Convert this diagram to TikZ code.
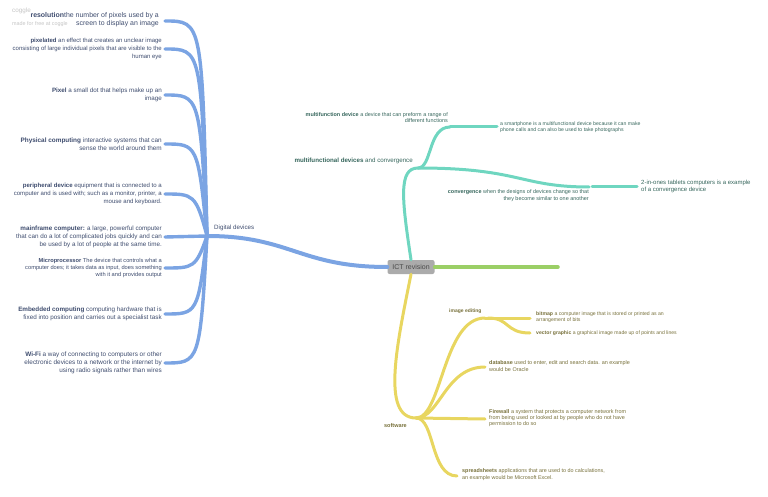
\documentclass[tikz,border=0pt]{standalone}
\usepackage{fontspec}
\setmainfont{Liberation Sans}
\definecolor{cblue}{HTML}{7BA4E3}
\definecolor{cteal}{HTML}{6FD6C0}
\definecolor{cgreen}{HTML}{9BCF66}
\definecolor{cyel}{HTML}{E8D660}
\definecolor{tblue}{HTML}{3E4C6E}
\definecolor{tteal}{HTML}{36665C}
\definecolor{tyel}{HTML}{77703A}
\definecolor{wmark}{HTML}{C4C4C4}
\definecolor{ictfill}{HTML}{ABABAB}
\definecolor{icttext}{HTML}{4A4A4A}
\newcommand\myfs[2]{\fontsize{#1}{#2}\selectfont}
\begin{document}
\begin{tikzpicture}[x=1pt,y=-1pt,
  bl/.style={draw=cblue,line width=3.4pt,line cap=round},
  tl/.style={draw=cteal,line width=3pt,line cap=round},
  yl/.style={draw=cyel,line width=3pt,line cap=round},
  gl/.style={draw=cgreen,line width=3.5pt,line cap=round},
  btxt/.style={text=tblue,inner sep=0pt,anchor=east,align=right},
  ttxt/.style={text=tteal,inner sep=0pt},
  ytxt/.style={text=tyel,inner sep=0pt,anchor=west,align=left},
  ictbox/.style={fill=ictfill,rounded corners=2pt,minimum width=47pt,minimum height=14pt,inner sep=0pt,text=icttext,font=\myfs{7}{8}}
]
\useasboundingbox (0,0) rectangle (768,497);

% watermark
\node[text=wmark,inner sep=0pt,anchor=west,font=\myfs{6.3}{7}] (wm1) at (12,11) {coggle};
\node[text=wmark,inner sep=0pt,anchor=west,font=\myfs{5.4}{6}] (wm2) at (12,24) {made for free at coggle};

% central node
\node[ictbox] (ict) at (411,267) {ICT revision};

% ---------- blue branch ----------
\coordinate (dd) at (207,236);
\draw[bl,line width=4pt] (ict.west) .. controls (300,267) and (290,236) .. (dd);
\node[text=tblue,inner sep=0pt,anchor=west,font=\myfs{6.2}{7}] (ddl) at (214,228) {Digital devices};

\coordinate (L1) at (165,21);
\coordinate (L2) at (165,49);
\coordinate (L3) at (165,95);
\coordinate (L4) at (165,144);
\coordinate (L5) at (165,194);
\coordinate (L6) at (165,237);
\coordinate (L7) at (165,268);
\coordinate (L8) at (165,314);
\coordinate (L9) at (165,363);

\draw[bl] (dd) .. controls (202,21) and (202,21) .. (L1);
\draw[bl] (dd) .. controls (201,49) and (201,49) .. (L2);
\draw[bl] (dd) .. controls (200,95) and (199,95) .. (L3);
\draw[bl] (dd) .. controls (198,144) and (197,144) .. (L4);
\draw[bl] (dd) .. controls (196,194) and (193,194) .. (L5);
\draw[bl] (dd) -- (L6);
\draw[bl] (dd) .. controls (196,268) and (193,268) .. (L7);
\draw[bl] (dd) .. controls (198,314) and (197,314) .. (L8);
\draw[bl] (dd) .. controls (200,363) and (199,363) .. (L9);

\node[btxt,font=\myfs{6.95}{8.3}] (t1) at (159,20) {\textbf{resolution}the number of pixels used by a\\screen to display an image};
\node[btxt,font=\myfs{6.0}{8}] (t2) at (162,49) {\textbf{pixelated} an effect that creates an unclear image\\consisting of large individual pixels that are visible to the\\human eye};
\node[btxt,font=\myfs{6.25}{8}] (t3) at (162,95) {\textbf{Pixel} a small dot that helps make up an\\image};
\node[btxt,font=\myfs{6.4}{7.5}] (t4) at (162,144) {\textbf{Physical computing} interactive systems that can\\sense the world around them};
\node[btxt,font=\myfs{6.05}{8}] (t5) at (162,194) {\textbf{peripheral device} equipment that is connected to a\\computer and is used with; such as a monitor, printer, a\\mouse and keyboard.};
\node[btxt,font=\myfs{6.3}{8}] (t6) at (162,237) {\textbf{mainframe computer:} a large, powerful computer\\that can do a lot of complicated jobs quickly and can\\be used by a lot of people at the same time.};
\node[btxt,font=\myfs{5.7}{7}] (t7) at (162,268) {\textbf{Microprocessor} The device that controls what a\\computer does; it takes data as input, does something\\with it and provides output};
\node[btxt,font=\myfs{6.3}{7.5}] (t8) at (162,314) {\textbf{Embedded computing} computing hardware that is\\fixed into position and carries out a specialist task};
\node[btxt,font=\myfs{6.4}{8}] (t9) at (162,363) {\textbf{Wi-Fi} a way of connecting to computers or other\\electronic devices to a network or the internet by\\using radio signals rather than wires};

% ---------- green branch ----------
\coordinate (gend) at (558,267);
\draw[gl] (ict.east) -- (gend);

% ---------- teal branch ----------
\coordinate (mc) at (418,168);
\coordinate (mf) at (450,127);
\coordinate (sp) at (497,127);
\coordinate (cv) at (589,187);
\coordinate (cv2) at (592,187);
\coordinate (tio) at (637,187);
\draw[tl] (ict.north) .. controls (402,200) and (398,168) .. (mc);
\draw[tl] (mc) .. controls (432,168) and (428,127) .. (mf);
\draw[tl] (mf) -- (sp);
\draw[tl] (mc) .. controls (520,168) and (520,187) .. (cv);
\draw[tl] (cv2) -- (tio);

\node[ttxt,anchor=east,font=\myfs{6.2}{7}] (mcl) at (413,161) {\textbf{multifunctional devices} and convergence};
\node[ttxt,anchor=east,align=right,font=\myfs{5.45}{6.5}] (mfl) at (448,117.5) {\textbf{multifunction device} a device that can preform a range of\\different functions};
\node[ttxt,anchor=west,align=left,font=\myfs{5.15}{5.8}] (spl) at (500,127) {a smartphone is a multifunctional device because it can make\\phone calls and can also be used to take photographs};
\node[ttxt,anchor=east,align=right,font=\myfs{5.45}{7}] (cvl) at (589,196) {\textbf{convergence} when the designs of devices change so that\\they become similar to one another};
\node[ttxt,anchor=west,align=left,font=\myfs{6.0}{7}] (tiol) at (641,186) {2-in-ones tablets computers is a example\\of a convergence device};

% ---------- yellow branch ----------
\coordinate (sw) at (416,418);
\coordinate (ie) at (485,318);
\coordinate (bm) at (530,318);
\coordinate (vgs) at (488,318);
\coordinate (vg) at (530,333);
\coordinate (db) at (485,367);
\coordinate (fw) at (485,419);
\coordinate (ss) at (457,476);
\draw[yl] (ict.south) .. controls (398,340) and (380,418) .. (sw);
\draw[yl] (sw) .. controls (442,418) and (443,318) .. (ie);
\draw[yl] (ie) -- (bm);
\draw[yl] (vgs) .. controls (510,318) and (505,333) .. (vg);
\draw[yl] (sw) .. controls (440,418) and (445,367) .. (db);
\draw[yl] (sw) -- (fw);
\draw[yl] (sw) .. controls (435,418) and (430,476) .. (ss);

\node[text=tyel,inner sep=0pt,anchor=east,font=\myfs{5.5}{7}\bfseries] (swl) at (407,425.5) {software};
\node[text=tyel,inner sep=0pt,anchor=west,font=\myfs{5.0}{6}\bfseries] (iel) at (449,311) {image editing};
\node[ytxt,font=\myfs{5.15}{6}] (bml) at (536,317) {\textbf{bitmap} a computer image that is stored or printed as an\\arrangement of bits};
\node[ytxt,font=\myfs{5.1}{6}] (vgl) at (536,333) {\textbf{vector graphic} a graphical image made up of points and lines};
\node[ytxt,font=\myfs{5.45}{7}] (dbl) at (489,366) {\textbf{database} used to enter, edit and search data. an example\\would be Oracle};
\node[ytxt,font=\myfs{5.45}{6.2}] (fwl) at (489,418) {\textbf{Firewall} a system that protects a computer network from\\from being used or looked at by people who do not have\\permission to do so};
\node[ytxt,font=\myfs{5.4}{7}] (ssl) at (462,474.5) {\textbf{spreadsheets} applications that are used to do calculations,\\an example would be Microsoft Excel.};
\end{tikzpicture}
\end{document}
